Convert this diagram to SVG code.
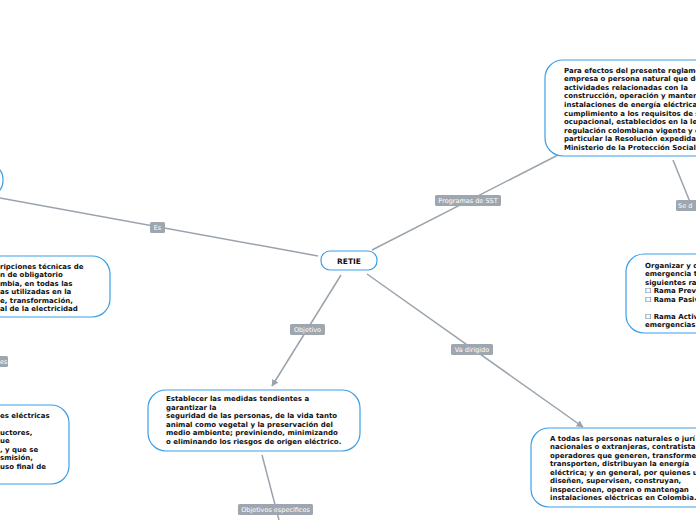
<svg xmlns="http://www.w3.org/2000/svg" width="696" height="520" viewBox="0 0 696 520">
<defs>
<style>
.node{fill:#ffffff;stroke:#3a9fe6;stroke-width:1.2}
.t{font-family:"DejaVu Sans",Verdana,sans-serif;font-weight:bold;font-size:7px;fill:#111}
.c{stroke:#9aa3ad;stroke-width:1.5;fill:none}
.lb{fill:#9ea7b0}
.lt{font-family:"DejaVu Sans",Verdana,sans-serif;font-size:6.5px;fill:#ffffff;text-anchor:middle}
</style>
<marker id="ah" viewBox="0 0 10 10" refX="9" refY="5" markerWidth="7" markerHeight="7" orient="auto" markerUnits="userSpaceOnUse">
<path d="M0,0 L10,5 L0,10 z" fill="#9aa3ad"/>
</marker>
</defs>
<rect width="696" height="520" fill="#ffffff"/>
<g id="connectors">
<line class="c" x1="0" y1="198" x2="318" y2="256"/>
<line class="c" x1="372" y1="250" x2="558" y2="155"/>
<line class="c" x1="673" y1="160" x2="690" y2="202"/>
<line class="c" x1="341" y1="275" x2="272" y2="386" marker-end="url(#ah)"/>
<line class="c" x1="367" y1="274" x2="583" y2="427" marker-end="url(#ah)"/>
<line class="c" x1="262" y1="455" x2="279" y2="520"/>
<rect class="lb" x="150" y="222" width="15" height="11" rx="1.5"/>
<text class="lt" x="157.5" y="230.2">Es</text>
<rect class="lb" x="435" y="195" width="66" height="11" rx="1.5"/>
<text class="lt" x="468" y="203.2">Programas de SST</text>
<rect class="lb" x="676" y="200" width="24" height="11" rx="1.5"/>
<text class="lt" x="678" y="208.2" style="text-anchor:start">Se d</text>
<rect class="lb" x="290" y="324" width="35" height="11" rx="1.5"/>
<text class="lt" x="307.5" y="332.2">Objetivo</text>
<rect class="lb" x="451" y="344" width="42" height="11" rx="1.5"/>
<text class="lt" x="472" y="352.2">Va dirigido</text>
<rect class="lb" x="238" y="504" width="75" height="11" rx="1.5"/>
<text class="lt" x="275.5" y="512.2">Objetivos especificos</text>
<rect class="lb" x="-10" y="356" width="18" height="11" rx="1.5"/>
<text class="lt" x="0" y="364.2" style="text-anchor:start">es</text>
</g>
<g id="retie">
<rect class="node" x="321" y="251" width="56" height="19" rx="9"/>
<text class="t" x="349" y="263.5" style="text-anchor:middle;font-size:7.5px">RETIE</text>
</g>
<g id="n-top-left">
<rect class="node" x="-60" y="164" width="63" height="32" rx="15"/>
</g>
<g id="n-programas">
<rect class="node" x="545" y="60" width="180" height="96" rx="18"/>
<text class="t" x="564">
<tspan x="564" y="72.5">Para efectos del presente reglame</tspan>
<tspan x="564" y="81.1">empresa o persona natural que de</tspan>
<tspan x="564" y="89.7">actividades relacionadas con la</tspan>
<tspan x="564" y="98.3">construcción, operación y manten</tspan>
<tspan x="564" y="106.9">instalaciones de energía eléctrica,</tspan>
<tspan x="564" y="115.5">cumplimiento a los requisitos de s</tspan>
<tspan x="564" y="124.1">ocupacional, establecidos en la le</tspan>
<tspan x="564" y="132.7">regulación colombiana vigente y e</tspan>
<tspan x="564" y="141.3">particular la Resolución expedida</tspan>
<tspan x="564" y="149.9">Ministerio de la Protección Social</tspan>
</text>
</g>
<g id="n-emergencia">
<rect class="node" x="626" y="254" width="110" height="79" rx="18"/>
<text class="t">
<tspan x="645" y="267.5">Organizar y d</tspan>
<tspan x="645" y="276">emergencia t</tspan>
<tspan x="645" y="284.5">siguientes ra</tspan>
<tspan x="645" y="293">☐ Rama Prev</tspan>
<tspan x="645" y="301.5">☐ Rama Pasiv</tspan>
<tspan x="645" y="318.5">☐ Rama Activ</tspan>
<tspan x="645" y="327">emergencias.</tspan>
</text>
</g>
<g id="n-prescripciones">
<rect class="node" x="-80" y="256" width="190" height="61" rx="18"/>
<text class="t">
<tspan x="0" y="268.5">ripciones técnicas de</tspan>
<tspan x="0" y="277">n de obligatorio</tspan>
<tspan x="0" y="285.5">mbia, en todas las</tspan>
<tspan x="0" y="294">as utilizadas en la</tspan>
<tspan x="0" y="302.5">e, transformación,</tspan>
<tspan x="0" y="311">al de la electricidad</tspan>
</text>
</g>
<g id="n-instalaciones">
<rect class="node" x="-120" y="405" width="189" height="79" rx="18"/>
<text class="t">
<tspan x="0" y="417.5">es eléctricas</tspan>
<tspan x="0" y="434.5">uctores,</tspan>
<tspan x="0" y="443">ue</tspan>
<tspan x="0" y="451.5">, y que se</tspan>
<tspan x="0" y="460">smisión,</tspan>
<tspan x="0" y="468.5">uso final de</tspan>
</text>
</g>
<g id="n-objetivo">
<rect class="node" x="148" y="390" width="212" height="61" rx="18"/>
<text class="t">
<tspan x="166" y="401">Establecer las medidas tendientes a</tspan>
<tspan x="166" y="409.6">garantizar la</tspan>
<tspan x="166" y="418.2">seguridad de las personas, de la vida tanto</tspan>
<tspan x="166" y="426.8">animal como vegetal y la preservación del</tspan>
<tspan x="166" y="435.4">medio ambiente; previniendo, minimizando</tspan>
<tspan x="166" y="444">o eliminando los riesgos de origen eléctrico.</tspan>
</text>
</g>
<g id="n-dirigido">
<rect class="node" x="531" y="428" width="200" height="79" rx="18"/>
<text class="t">
<tspan x="550" y="440.5">A todas las personas naturales o jurí</tspan>
<tspan x="550" y="449">nacionales o extranjeras, contratista</tspan>
<tspan x="550" y="457.5">operadores que generen, transforme</tspan>
<tspan x="550" y="466">transporten, distribuyan la energía</tspan>
<tspan x="550" y="474.5">eléctrica; y en general, por quienes u</tspan>
<tspan x="550" y="483">diseñen, supervisen, construyan,</tspan>
<tspan x="550" y="491.5">inspeccionen, operen o mantengan</tspan>
<tspan x="550" y="500">instalaciones eléctricas en Colombia.</tspan>
</text>
</g>
</svg>
